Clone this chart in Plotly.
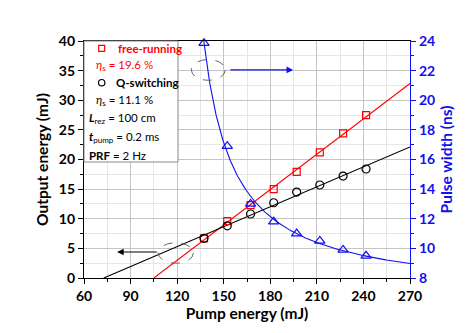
import numpy as np
import plotly.graph_objects as go

# Pump energy (mJ) for each measurement
pump_energy = [137.3, 152.3, 167.3, 182.2, 197.0, 211.9, 226.9, 241.7]
# Output energy (mJ)
free_running = [6.7, 9.6, 12.3, 15.0, 17.9, 21.2, 24.4, 27.5]
q_switching = [6.7, 8.8, 10.8, 12.7, 14.5, 15.7, 17.2, 18.4]
# Q-switched pulse width (ns)
pulse_width = [23.85, 16.9, 13.0, 11.8, 11.0, 10.5, 9.9, 9.5]

x_ticks = [60, 90, 120, 150, 180, 210, 240, 270]

RED = "#ff0000"
BLUE = "#1010ee"
FONT = "Lato"

E = np.array(pump_energy)


def linear_fit(y):
    slope, icpt = np.polyfit(E, np.array(y), 1)
    x0 = max(60.0, -icpt / slope)
    xs = np.array([x0, 270.0])
    return xs, slope * xs + icpt


def hyperbolic_fit(y):
    # w = a + b / (E - c), c found by a simple scan
    y = np.array(y)
    best = None
    for c in np.arange(90.0, 136.0, 0.1):
        A = np.column_stack([np.ones_like(E), 1.0 / (E - c)])
        coef, *_ = np.linalg.lstsq(A, y, rcond=None)
        err = np.sum((A @ coef - y) ** 2)
        if best is None or err < best[0]:
            best = (err, c, coef)
    _, c, (a, b) = best
    xs = np.linspace(c + 3, 270, 400)
    return xs, a + b / (xs - c)


fr_x, fr_y = linear_fit(free_running)
qs_x, qs_y = linear_fit(q_switching)
pw_x, pw_y = hyperbolic_fit(pulse_width)

fig = go.Figure()
fig.add_trace(go.Scatter(x=fr_x, y=fr_y, mode="lines", line=dict(color=RED, width=1.1), showlegend=False))
fig.add_trace(go.Scatter(x=qs_x, y=qs_y, mode="lines", line=dict(color="black", width=1.1), showlegend=False))
fig.add_trace(go.Scatter(x=pw_x, y=pw_y, mode="lines", line=dict(color=BLUE, width=1.1),
                         yaxis="y2", showlegend=False))
fig.add_trace(go.Scatter(x=pump_energy, y=free_running, mode="markers", cliponaxis=False,
                         marker=dict(symbol="square-open", size=7, color=RED, line=dict(width=1.2)),
                         showlegend=False))
fig.add_trace(go.Scatter(x=pump_energy, y=q_switching, mode="markers", cliponaxis=False,
                         marker=dict(symbol="circle-open", size=8, color="black", line=dict(width=1.2)),
                         showlegend=False))
fig.add_trace(go.Scatter(x=pump_energy, y=pulse_width, mode="markers", cliponaxis=False,
                         marker=dict(symbol="triangle-up-open", size=9, color=BLUE, line=dict(width=1.2)),
                         yaxis="y2", showlegend=False))

W, H = 474, 333
L, R, T, B = 84, 64, 41, 55
PW, PH = W - L - R, H - T - B


def px(x):
    return (x - L) / PW


def py(y):
    return (H - B - y) / PH


shapes = []
annotations = []

# legend box
shapes.append(dict(type="rect", xref="paper", yref="paper", x0=px(84), x1=px(178), y0=py(162), y1=py(41),
                   line=dict(color="#8a8a8a", width=1), fillcolor="white", layer="above"))
# legend keys
shapes.append(dict(type="rect", xref="paper", yref="paper", x0=px(98.7), x1=px(104.7), y0=py(51.3), y1=py(45.3),
                   line=dict(color=RED, width=1.2), fillcolor="white", layer="above"))
shapes.append(dict(type="circle", xref="paper", yref="paper", x0=px(98.5), x1=px(104.9), y0=py(85.9), y1=py(79.5),
                   line=dict(color="black", width=1.2), fillcolor="white", layer="above"))

legend_rows = [
    (116, 48.5, "<b>free-running</b>", RED),
    (94, 65.5, "<i>η</i><sub>s</sub> = 19.6 %", RED),
    (114, 83, "<b>Q-switching</b>", "black"),
    (94, 100.5, "<i>η</i><sub>s</sub> = 11.1 %", "black"),
    (87, 118.5, "<b><i>L</i></b><sub>rez</sub> = 100 cm", "black"),
    (87, 137, "<b><i>t</i></b><sub>pump</sub> = 0.2 ms", "black"),
    (87, 155, "<b>PRF</b> = 2 Hz", "black"),
]
for x, y, txt, col in legend_rows:
    annotations.append(dict(xref="paper", yref="paper", x=px(x), y=py(y), text=txt, showarrow=False,
                            xanchor="left", yanchor="middle", font=dict(family=FONT, size=11.5, color=col)))

# dashed markers pointing each data set to its axis
shapes.append(dict(type="circle", xref="x", yref="y2", x0=129.2, x1=151.0, y0=21.35, y1=22.75,
                   line=dict(color="#666666", width=1, dash="dash")))
annotations.append(dict(xref="x", yref="y2", x=194.7, y=22.05, ax=153.3, ay=22.05, axref="x", ayref="y2",
                        text="", showarrow=True, arrowhead=2, arrowsize=1.2, arrowwidth=1.1, arrowcolor=BLUE))
shapes.append(dict(type="circle", xref="x", yref="y", x0=107.8, x1=130.5, y0=2.5, y1=5.95,
                   line=dict(color="#666666", width=1, dash="dash")))
annotations.append(dict(xref="x", yref="y", x=81.3, y=4.4, ax=107.8, ay=4.4, axref="x", ayref="y",
                        text="", showarrow=True, arrowhead=2, arrowsize=1.2, arrowwidth=1.1, arrowcolor="black"))

tick_font = dict(family=FONT, size=14, color="black", weight=700)
title_font = dict(family=FONT, size=15.5, color="black", weight=700)

fig.update_layout(
    width=W, height=H,
    margin=dict(l=L, r=R, t=T, b=B, pad=0),
    paper_bgcolor="white", plot_bgcolor="white",
    font=dict(family=FONT),
    shapes=shapes, annotations=annotations,
    xaxis=dict(range=[60, 270], tickvals=x_ticks, ticks="outside", ticklen=5, tickwidth=1, tickcolor="black",
               showline=True, linecolor="black", linewidth=1.2, mirror=True,
               showgrid=True, gridcolor="#c4c4c4", gridwidth=1, zeroline=False,
               minor=dict(dtick=15, tick0=60, ticks="outside", ticklen=3, tickcolor="black",
                          showgrid=True, gridcolor="#e6e6e6"),
               tickfont=tick_font,
               title=dict(text="Pump energy (mJ)", font=title_font, standoff=4)),
    yaxis=dict(range=[0, 40], dtick=5, ticks="outside", ticklen=5, tickwidth=1, tickcolor="black",
               showline=True, linecolor="black", linewidth=1.2,
               showgrid=True, gridcolor="#c4c4c4", gridwidth=1, zeroline=False,
               minor=dict(dtick=2.5, ticks="outside", ticklen=3, tickcolor="black",
                          showgrid=True, gridcolor="#e6e6e6"),
               tickfont=tick_font,
               title=dict(text="Output energy (mJ)", font=title_font, standoff=6)),
    yaxis2=dict(range=[8, 24], dtick=2, overlaying="y", side="right", ticks="outside", ticklen=5,
                tickwidth=1, tickcolor=BLUE, showline=True, linecolor=BLUE, linewidth=1.2,
                showgrid=False, zeroline=False,
                minor=dict(dtick=1, ticks="outside", ticklen=3, tickcolor=BLUE, showgrid=False),
                tickfont=dict(family=FONT, size=14, color=BLUE, weight=700),
                title=dict(text="Pulse width (ns)", font=dict(family=FONT, size=15.5, color=BLUE, weight=700),
                           standoff=6)),
)

fig.write_html("out.html")
